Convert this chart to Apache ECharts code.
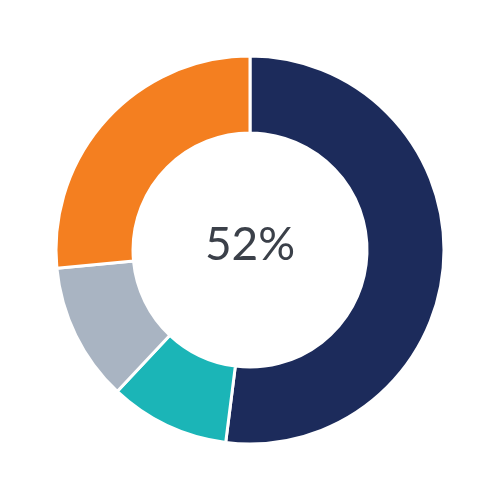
<!DOCTYPE html>
<html><head><meta charset="utf-8">
<script src="https://cdn.jsdelivr.net/npm/echarts@6/dist/echarts.min.js"></script>
<style>html,body{margin:0;padding:0;background:#fff}#c{width:500px;height:500px}</style>
</head><body><div id="c"></div>
<script>
const categories = ['A', 'B', 'C', 'D'];
const values = [52, 10, 11.5, 26.5];
const colors = ['#1c2b5b', '#1bb5b7', '#a9b4c2', '#f47f20'];
const centerLabel = '52%';

const chart = echarts.init(document.getElementById('c'));
chart.setOption({
  animation: false,
  graphic: [{
    type: 'text', left: 'center', top: 222,
    style: { text: centerLabel, font: '46px Lato', fill: '#3b4049' }
  }],
  series: [{
    type: 'pie',
    center: [250, 250],
    radius: [117, 194],
    startAngle: 90,
    clockwise: true,
    label: { show: false },
    labelLine: { show: false },
    itemStyle: { borderColor: '#fff', borderWidth: 3 },
    data: categories.map((c, i) => ({ name: c, value: values[i], itemStyle: { color: colors[i] } }))
  }]
});
</script></body></html>
